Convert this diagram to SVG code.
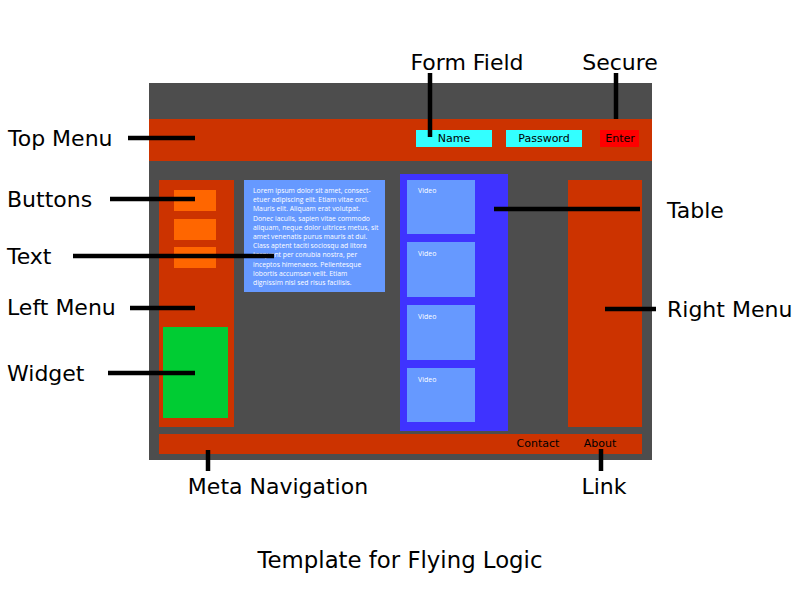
<svg xmlns="http://www.w3.org/2000/svg" width="800" height="600" viewBox="0 0 800 600">
<style>
.lbl{font-family:"DejaVu Sans",Verdana,sans-serif;font-size:22px;fill:#000}
.small{font-family:"DejaVu Sans",Verdana,sans-serif;font-size:11px;fill:#000}
.lorem{font-family:"Open Sans","Liberation Sans",sans-serif;font-size:6.8px;fill:#fff}
.vid{font-family:"Open Sans","Liberation Sans",sans-serif;font-size:7px;fill:#fff}
.con line{stroke:#000;stroke-width:4.5}
.red{fill:#cc3300}
.btn{fill:#ff6600}
.v{fill:#6699ff}
</style>
<rect width="800" height="600" fill="#fff"/>
<g id="page"><rect x="149" y="83" width="503" height="377" fill="#4d4d4d"/></g>
<g id="topmenu"><rect x="149" y="119" width="503" height="42" class="red"/></g>
<g id="name"><rect x="416" y="130" width="76" height="17" fill="#33ffff"/><text x="454" y="142" class="small" text-anchor="middle">Name</text></g>
<g id="password"><rect x="506" y="130" width="76" height="17" fill="#33ffff"/><text x="544" y="142" class="small" text-anchor="middle">Password</text></g>
<g id="enter"><rect x="600" y="130" width="39" height="17" fill="#ff0000"/><text x="620" y="142" class="small" text-anchor="middle">Enter</text></g>
<g id="leftmenu"><rect x="159" y="180" width="75" height="247" class="red"/></g>
<g id="buttons"><rect x="174" y="190" width="42" height="21" class="btn"/><rect x="174" y="219" width="42" height="21" class="btn"/><rect x="174" y="247" width="42" height="21" class="btn"/></g>
<g id="widget"><rect x="163" y="327" width="65" height="91" fill="#00cc33"/></g>
<g id="text"><rect x="244" y="180" width="141" height="112" class="v"/>
<text class="lorem"><tspan x="253" y="193">Lorem ipsum dolor sit amet, consect-</tspan><tspan x="253" y="202">etuer adipiscing elit. Etiam vitae orci.</tspan><tspan x="253" y="211">Mauris elit. Aliquam erat volutpat.</tspan><tspan x="253" y="220.5">Donec iaculis, sapien vitae commodo</tspan><tspan x="253" y="229.5">aliquam, neque dolor ultrices metus, sit</tspan><tspan x="253" y="239">amet venenatis purus mauris at dui.</tspan><tspan x="253" y="248">Class aptent taciti sociosqu ad litora</tspan><tspan x="253" y="257">torquent per conubia nostra, per</tspan><tspan x="253" y="266.5">inceptos himenaeos. Pellentesque</tspan><tspan x="253" y="275.5">lobortis accumsan velit. Etiam</tspan><tspan x="253" y="285">dignissim nisl sed risus facilisis.</tspan></text></g>
<g id="table"><rect x="400" y="174" width="108" height="257" fill="#3f33ff"/>
<rect x="407" y="180" width="68" height="54" class="v"/><text x="418" y="193" class="vid">Video</text>
<rect x="407" y="242" width="68" height="55" class="v"/><text x="418" y="256" class="vid">Video</text>
<rect x="407" y="305" width="68" height="55" class="v"/><text x="418" y="319" class="vid">Video</text>
<rect x="407" y="368" width="68" height="54" class="v"/><text x="418" y="382" class="vid">Video</text></g>
<g id="rightmenu"><rect x="568" y="180" width="74" height="247" class="red"/></g>
<g id="metanav"><rect x="159" y="434" width="483" height="20" class="red"/><text x="538" y="447" class="small" text-anchor="middle">Contact</text><text x="600" y="447" class="small" text-anchor="middle">About</text></g>
<g id="connectors" class="con">
<line x1="128" y1="138" x2="195" y2="138"/>
<line x1="110" y1="199" x2="195" y2="199"/>
<line x1="73" y1="256" x2="274" y2="256"/>
<line x1="130" y1="308" x2="195" y2="308"/>
<line x1="108" y1="373" x2="195" y2="373"/>
<line x1="430" y1="73" x2="430" y2="137"/>
<line x1="616" y1="73" x2="616" y2="119"/>
<line x1="494" y1="209" x2="640" y2="209"/>
<line x1="605" y1="309" x2="656" y2="309"/>
<line x1="208" y1="450" x2="208" y2="471"/>
<line x1="601" y1="449" x2="601" y2="471"/>
</g>
<g id="labels">
<text x="8" y="146" class="lbl">Top Menu</text>
<text x="7" y="207" class="lbl">Buttons</text>
<text x="7" y="264" class="lbl">Text</text>
<text x="7" y="315" class="lbl">Left Menu</text>
<text x="7" y="381" class="lbl">Widget</text>
<text x="467" y="70" class="lbl" text-anchor="middle">Form Field</text>
<text x="620" y="70" class="lbl" text-anchor="middle">Secure</text>
<text x="667" y="218" class="lbl">Table</text>
<text x="667" y="317" class="lbl">Right Menu</text>
<text x="278" y="494" class="lbl" text-anchor="middle">Meta Navigation</text>
<text x="604" y="494" class="lbl" text-anchor="middle">Link</text>
<text x="400" y="568" class="lbl" text-anchor="middle" style="font-size:22.8px">Template for Flying Logic</text>
</g>
</svg>
